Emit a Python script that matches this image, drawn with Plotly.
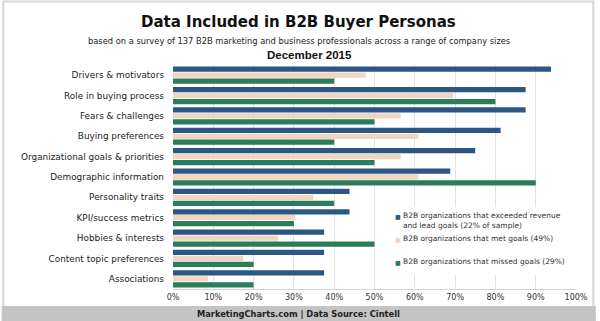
import plotly.graph_objects as go

categories = [
    "Drivers & motivators",
    "Role in buying process",
    "Fears & challenges",
    "Buying preferences",
    "Organizational goals & priorities",
    "Demographic information",
    "Personality traits",
    "KPI/success metrics",
    "Hobbies & interests",
    "Content topic preferences",
    "Associations",
]
exceeded = [93.8, 87.5, 87.5, 81.3, 75.0, 68.8, 43.8, 43.8, 37.5, 37.5, 37.5]
met = [47.8, 69.6, 56.5, 60.9, 56.5, 60.9, 34.8, 30.4, 26.1, 17.4, 8.7]
missed = [40.0, 80.0, 50.0, 40.0, 50.0, 90.0, 40.0, 30.0, 50.0, 20.0, 20.0]
series_names = [
    "B2B organizations that exceeded revenue<br>and lead goals (22% of sample)",
    "B2B organizations that met goals (49%)",
    "B2B organizations that missed goals (29%)",
]
colors = ["#2B5782", "#F0D6C0", "#2A7C5A"]
tick_vals = [0, 10, 20, 30, 40, 50, 60, 70, 80, 90, 100]
tick_text = [f"{v}%" for v in tick_vals]

W, H = 600, 321
L, R, T, B = 173, 20, 65, 32
PW, PH = W - L - R, H - T - B


def px(x):
    return (x - L) / PW


def py(y):
    return 1 - (y - T) / PH


FONT = "DejaVu Sans"
fig = go.Figure()
for name, vals, col in zip(series_names, [exceeded, met, missed], colors):
    fig.add_trace(go.Bar(
        y=categories, x=vals, name=name, orientation="h",
        marker=dict(color=col, line=dict(width=0)),
        showlegend=False,
    ))

shapes = [
    # outer frame
    dict(type="rect", xref="paper", yref="paper", x0=px(1.5), x1=px(597.5), y0=py(307), y1=py(1.5),
         line=dict(color="#d6d6d6", width=2), fillcolor="rgba(0,0,0,0)", layer="below"),
    # footer band
    dict(type="rect", xref="paper", yref="paper", x0=px(0), x1=px(600), y0=py(321), y1=py(306),
         line=dict(width=0), fillcolor="#c4c4c4", layer="below"),
    # legend background
    dict(type="rect", xref="paper", yref="paper", x0=px(394), x1=px(576), y0=py(275), y1=py(207),
         line=dict(width=0), fillcolor="white", layer="above"),
]

ann = [
    dict(text="<b>Data Included in B2B Buyer Personas</b>", x=px(300), y=py(22),
         font=dict(size=15, color="#111", family=FONT)),
    dict(text="based on a survey of 137 B2B marketing and business professionals across a range of company sizes",
         x=px(300), y=py(41), font=dict(size=8.3, color="#222", family=FONT)),
    dict(text="<b>December 2015</b>", x=px(311), y=py(55),
         font=dict(size=11.5, color="#111", family="Liberation Sans")),
    dict(text="<b>MarketingCharts.com | Data Source: Cintell</b>", x=px(300), y=py(313.5),
         font=dict(size=8.3, color="#222", family=FONT)),
]
leg_rows = [(216, 224), (239, None), (262, None)]
for (y1, y2), col, name in zip(leg_rows, colors, series_names):
    ann.append(dict(text="■", x=px(400), y=py(y1), font=dict(size=6, color=col, family=FONT)))
    ann.append(dict(text=name, x=px(403), y=py(y1 - 1 if y2 is None else (y1 + y2) / 2),
                    xanchor="left", align="left",
                    font=dict(size=7.5, color="#333", family=FONT)))
for a in ann:
    a.setdefault("xref", "paper")
    a.setdefault("yref", "paper")
    a.setdefault("showarrow", False)
    a.setdefault("xanchor", "center")
    a.setdefault("yanchor", "middle")

fig.update_layout(
    width=W, height=H,
    margin=dict(l=L, r=R, t=T, b=B, pad=0),
    paper_bgcolor="white", plot_bgcolor="white",
    barmode="group", bargap=0.12, bargroupgap=0.12,
    font=dict(family=FONT, color="#333"),
    shapes=shapes, annotations=ann,
    xaxis=dict(range=[0, 100], tickvals=tick_vals, ticktext=tick_text,
               showgrid=True, gridcolor="#e2e2e2", gridwidth=1, zeroline=False,
               showline=True, linecolor="#d4d4d4", linewidth=1,
               tickfont=dict(size=8, color="#333", family=FONT), fixedrange=True),
    yaxis=dict(autorange="reversed", showgrid=False, ticks="", ticklabelstandoff=8,
               tickfont=dict(size=8.9, color="#222", family=FONT), fixedrange=True),
)
fig.write_html("out.html")
